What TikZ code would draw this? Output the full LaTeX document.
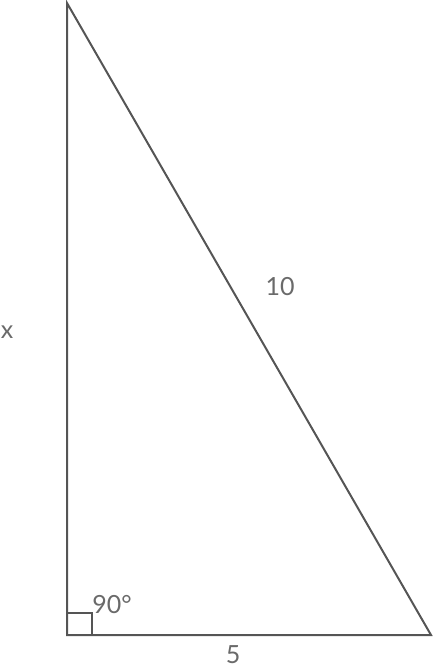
\documentclass[tikz,border=0pt]{standalone}
\usepackage{fontspec}
\setmainfont{Lato}
\definecolor{linec}{HTML}{555555}
\definecolor{textc}{HTML}{6A6A6A}
\begin{document}
\begin{tikzpicture}[x=1pt,y=-1pt,
  edge/.style={draw=linec,line width=2pt,line join=miter},
  lbl/.style={text=textc,font=\fontsize{25}{30}\selectfont,inner sep=0pt}]
\useasboundingbox (0,0) rectangle (434,667);
\coordinate (A) at (67,3);
\coordinate (B) at (67,635);
\coordinate (C) at (431,635);
\draw[edge] (A) -- (B) -- (C) -- cycle;
\coordinate (S1) at (67,613);
\coordinate (S2) at (92,613);
\coordinate (S3) at (92,635);
\draw[edge] (S1) -- (S2) -- (S3);
\node[lbl] (x) at (7,332) {x};
\node[lbl] (h) at (280,287) {10};
\node[lbl] (b) at (233,654.5) {5};
\node[lbl] (ang) at (112,605) {90°};
\end{tikzpicture}
\end{document}
